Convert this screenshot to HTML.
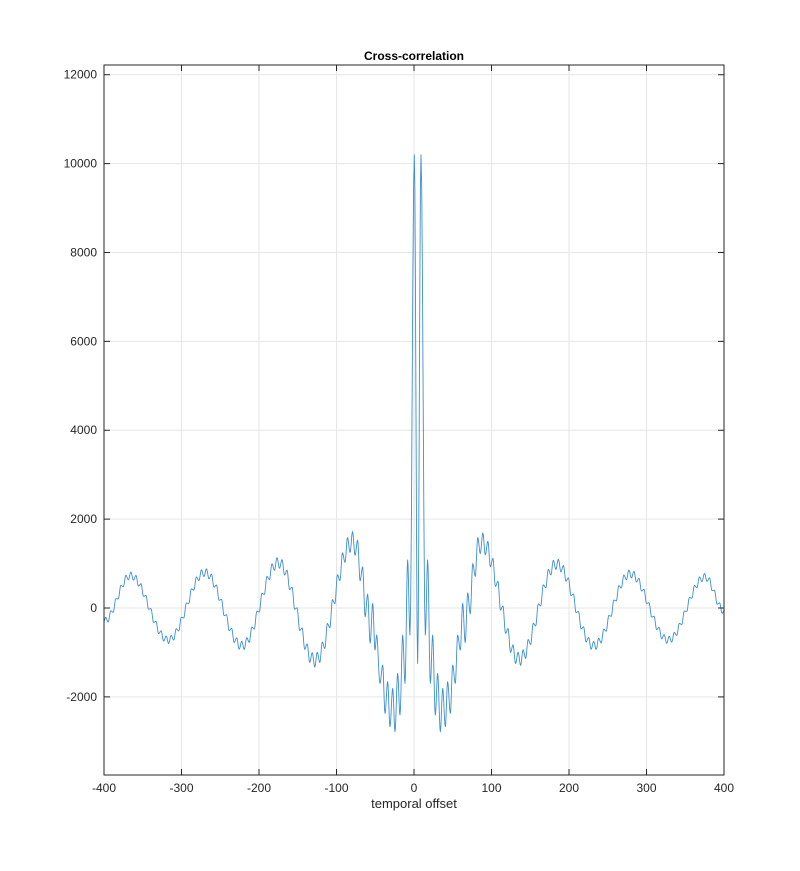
<!DOCTYPE html>
<html><head><meta charset="utf-8"><style>
body{margin:0;background:#fff;}
svg{display:block;font-family:"Liberation Sans",sans-serif;}
</style></head><body>
<svg id="chart" width="800" height="871" viewBox="0 0 800 871" xmlns="http://www.w3.org/2000/svg">
<rect width="800" height="871" fill="#fff"/>
<rect x="104" y="65" width="620" height="710" fill="#fff"/>
<g id="grid"></g><g id="series"></g><g id="axes"></g>
<text x="414" y="60" text-anchor="middle" font-size="12" font-weight="bold" fill="#000">Cross-correlation</text>
<text x="414" y="808" text-anchor="middle" font-size="13" fill="#262626">temporal offset</text>
</svg>
<script>
// slow-wave extrema (ripple-centre values) outside the central region
const slowLags = [-400,-366,-317,-270,-222,-175,-128,-79,-53.3, 62.8,87,135.5,184,232,279,328,375.5,400];
const slowVals = [-300,730,-720,800,-850,1020,-1180,1500,-400, -400,1480,-1150,990,-850,770,-720,700,-60];
// ripple amplitude knots
const rippleLags = [-400,-320,-222,-175,-128,-79,-53.3, 62.8,87,135.5,184,232,330,400];
const rippleAmps = [80,80,100,120,150,220,500, 500,220,150,120,100,80,80];
// explicit central region samples (lag, value)
const centerLags = [-53.3,-50.3,-48.2,-43.9,-40.4,-37.4,-34.0,-31.0,-27.5,-24.5,-21.1,-18.1,-14.6,-11.6,-8.2,-5.2,0.4,4.7,9.0,14.6,17.6,21.1,24.1,27.5,30.5,34.0,37.0,40.4,43.4,46.9,49.9,53.3,56.3,59.8,62.8];
const centerVals = [105,-946,-608,-1696,-1284,-2372,-1659,-2672,-1809,-2785,-1471,-2410,-608,-1696,1081,-608,10200,-1246,10200,-608,1081,-1696,-608,-2410,-1471,-2785,-1809,-2672,-1659,-2372,-1284,-1696,-608,-946,105];
const rippleHalf = 3.25;
const xTicks = [-400,-300,-200,-100,0,100,200,300,400];
const yTicks = [-2000,0,2000,4000,6000,8000,10000,12000];

const X0=104,X1=724,Y0=65,Y1=775;
const xPx = x => 414 + x*0.775;
const yPx = v => 608 - v*0.04444;
const NS="http://www.w3.org/2000/svg";
function mk(tag,attrs,parent){const e=document.createElementNS(NS,tag);for(const k in attrs)e.setAttribute(k,attrs[k]);parent.appendChild(e);return e;}
function cosInterp(lags,vals,x){
  if(x<=lags[0])return vals[0];
  for(let i=0;i<lags.length-1;i++){
    if(x>=lags[i]&&x<=lags[i+1]){const t=(x-lags[i])/(lags[i+1]-lags[i]);const w=(1-Math.cos(Math.PI*t))/2;return vals[i]+(vals[i+1]-vals[i])*w;}
  }
  return vals[vals.length-1];
}
function linInterp(lags,vals,x){
  if(x<=lags[0])return vals[0];
  for(let i=0;i<lags.length-1;i++){
    if(x>=lags[i]&&x<=lags[i+1]){const t=(x-lags[i])/(lags[i+1]-lags[i]);return vals[i]+(vals[i+1]-vals[i])*t;}
  }
  return vals[vals.length-1];
}
function sample(x,k){return cosInterp(slowLags,slowVals,x)+(k%2===0?1:-1)*linInterp(rippleLags,rippleAmps,x);}

const grid=document.getElementById('grid'), axes=document.getElementById('axes'), series=document.getElementById('series');
xTicks.forEach(t=>{
  const gl=mk('line',{x1:xPx(t),x2:xPx(t),y1:Y0,y2:Y1,stroke:'#e6e6e6','stroke-width':1},grid);
  
  
  mk('line',{x1:xPx(t),x2:xPx(t),y1:Y1,y2:Y1-6,stroke:'#262626','stroke-width':1},axes);
  mk('line',{x1:xPx(t),x2:xPx(t),y1:Y0,y2:Y0+6,stroke:'#262626','stroke-width':1},axes);
  const tl=mk('text',{x:xPx(t),y:792,'text-anchor':'middle','font-size':12,fill:'#262626'},axes);
  tl.textContent=t;
  
  
});
yTicks.forEach(t=>{
  const gl=mk('line',{x1:X0,x2:X1,y1:yPx(t),y2:yPx(t),stroke:'#e6e6e6','stroke-width':1},grid);
  
  
  mk('line',{x1:X0,x2:X0+6,y1:yPx(t),y2:yPx(t),stroke:'#262626','stroke-width':1},axes);
  mk('line',{x1:X1,x2:X1-6,y1:yPx(t),y2:yPx(t),stroke:'#262626','stroke-width':1},axes);
  const tl=mk('text',{x:97,y:yPx(t)+4,'text-anchor':'end','font-size':12,fill:'#262626'},axes);
  tl.textContent=t;
  
  
});
const box=mk('rect',{x:X0,y:Y0,width:X1-X0,height:Y1-Y0,fill:'none',stroke:'#262626','stroke-width':1},axes);



// build extrema points
const left=[];
const cL=centerLags[0];
for(let k=1;;k++){const x=cL-k*rippleHalf;if(x<-400){left.push([-400,slowVals[0]]);break;}left.push([x,sample(x,k)]);}
left.reverse();
const mid=centerLags.map((x,i)=>[x,centerVals[i]]);
const right=[];
const cR=centerLags[centerLags.length-1];
for(let k=1;;k++){const x=cR+k*rippleHalf;if(x>400){right.push([400,slowVals[slowVals.length-1]]);break;}right.push([x,sample(x,k)]);}
const pts=left.concat(mid,right);
// smooth between consecutive extrema (half-cosine)
const dense=[pts[0]];
for(let i=0;i<pts.length-1;i++){
  const a=pts[i],b=pts[i+1];
  for(let s=1;s<=6;s++){const t=s/6;const w=(1-Math.cos(Math.PI*t))/2;dense.push([a[0]+(b[0]-a[0])*t,a[1]+(b[1]-a[1])*w]);}
}
const d=dense.map((p,i)=>(i?'L':'M')+xPx(p[0]).toFixed(2)+' '+yPx(p[1]).toFixed(2)).join(' ');
const path=mk('path',{d:d,fill:'none',stroke:'#3d8fd1','stroke-width':0.9,'stroke-linejoin':'round'},series);


</script>
</body></html>
